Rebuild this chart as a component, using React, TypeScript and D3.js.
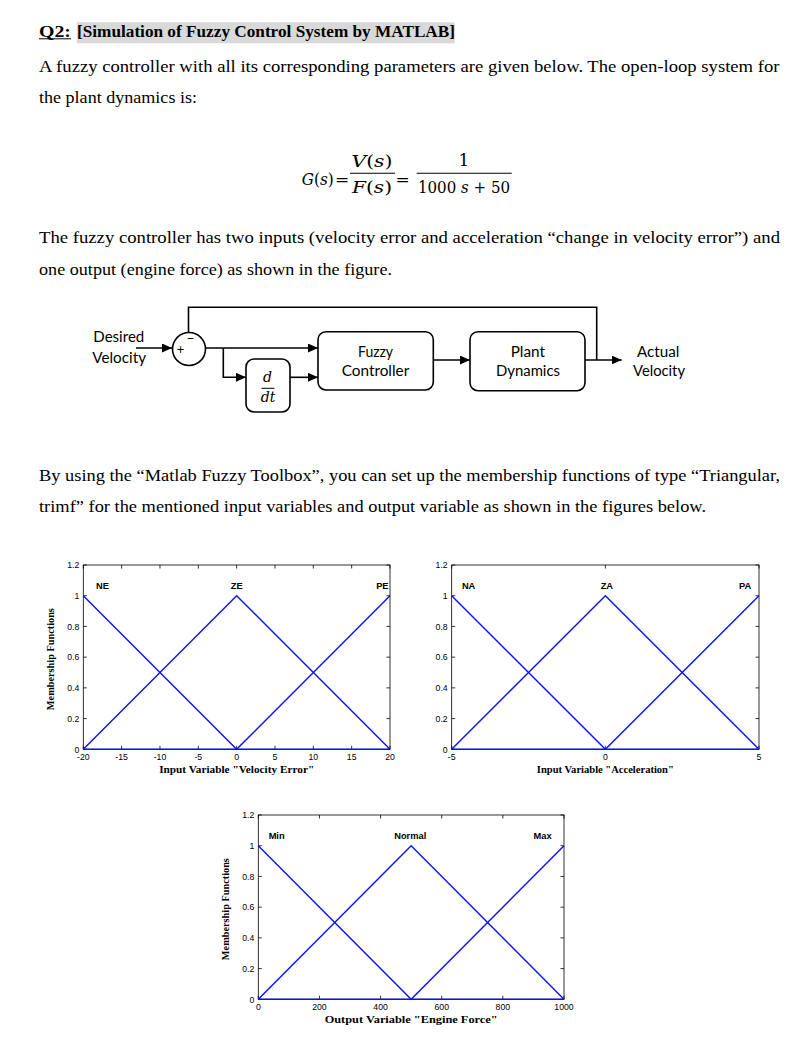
import { FC } from "react";
import * as d3 from "d3";

const W = 803;
const H = 1042;

// membership value ticks shared by all three plots
const mfTicks = [0, 0.2, 0.4, 0.6, 0.8, 1, 1.2];

// velocity error input
const velTicks = [-20, -15, -10, -5, 0, 5, 10, 15, 20];
const velNames = ["NE", "ZE", "PE"];
const velLabelX = [-17.5, 0, 19];
const velMF: [number, number][][] = [
  [[-20, 1], [0, 0], [20, 0]],
  [[-20, 0], [0, 1], [20, 0]],
  [[-20, 0], [0, 0], [20, 1]],
];

// acceleration input
const accTicks = [-5, 0, 5];
const accNames = ["NA", "ZA", "PA"];
const accLabelX = [-4.45, 0.05, 4.55];
const accMF: [number, number][][] = [
  [[-5, 1], [0, 0], [5, 0]],
  [[-5, 0], [0, 1], [5, 0]],
  [[-5, 0], [0, 0], [5, 1]],
];

// engine force output
const forceTicks = [0, 200, 400, 600, 800, 1000];
const forceNames = ["Min", "Normal", "Max"];
const forceLabelX = [60, 497, 930];
const forceMF: [number, number][][] = [
  [[0, 1], [500, 0], [1000, 0]],
  [[0, 0], [500, 1], [1000, 0]],
  [[0, 0], [500, 0], [1000, 1]],
];

const BLUE = "#0b12ee";
const SANS = "'Liberation Sans', Arial, sans-serif";
const SERIF = "'Liberation Serif', 'Times New Roman', serif";
const MATH = "'DejaVu Serif', serif";
const DIAG = "Lato, 'Open Sans', sans-serif";

interface IMFChart {
  x0: number;
  x1: number;
  y0: number;
  y1: number;
  domain: [number, number];
  xTicks: number[];
  names: string[];
  labelX: number[];
  lines: [number, number][][];
  xLabel: string;
  xLabelLen: number;
  yLabel?: string;
}

const MFChart: FC<IMFChart> = ({ x0, x1, y0, y1, domain, xTicks, names, labelX, lines, xLabel, xLabelLen, yLabel }) => {
  const x = d3.scaleLinear().domain(domain).range([x0, x1]);
  const y = d3.scaleLinear().domain([0, 1.2]).range([y1, y0]);
  const line = d3.line<[number, number]>().x(d => x(d[0])).y(d => y(d[1]));
  const tk = 3.5;
  return (
    <g>
      <rect x={x0} y={y0} width={x1 - x0} height={y1 - y0} fill="#fff" stroke="#000" strokeWidth={0.8} />
      {xTicks.map(t => (
        <g key={"x" + t}>
          <line x1={x(t)} x2={x(t)} y1={y1} y2={y1 - tk} stroke="#000" strokeWidth={0.8} />
          <line x1={x(t)} x2={x(t)} y1={y0} y2={y0 + tk} stroke="#000" strokeWidth={0.8} />
          <text x={x(t)} y={y1 + 10.5} textAnchor="middle" fontFamily={SANS} fontSize={8.7}>{t}</text>
        </g>
      ))}
      {mfTicks.map(t => (
        <g key={"y" + t}>
          <line x1={x0} x2={x0 + tk} y1={y(t)} y2={y(t)} stroke="#000" strokeWidth={0.8} />
          <line x1={x1} x2={x1 - tk} y1={y(t)} y2={y(t)} stroke="#000" strokeWidth={0.8} />
          <text x={x0 - 4} y={y(t) + 3.2} textAnchor="end" fontFamily={SANS} fontSize={8.7}>{t}</text>
        </g>
      ))}
      {lines.map((pts, i) => (
        <path key={"l" + i} d={line(pts) || ""} fill="none" stroke={BLUE} strokeWidth={1.4} />
      ))}
      {names.map((n, i) => (
        <text key={n} x={x(labelX[i])} y={y(1.045)} textAnchor="middle" fontFamily={SANS} fontWeight="bold" fontSize={9.3}>{n}</text>
      ))}
      <text x={(x0 + x1) / 2} y={y1 + 23.5} textAnchor="middle" fontFamily={SERIF} fontWeight="bold" fontSize={10}
        textLength={xLabelLen} lengthAdjust="spacingAndGlyphs">{xLabel}</text>
      {yLabel && (
        <text transform={`translate(${x0 - 29},${(y0 + y1) / 2 + 2}) rotate(-90)`} textAnchor="middle" fontFamily={SERIF}
          fontWeight="bold" fontSize={10} textLength={102} lengthAdjust="spacingAndGlyphs">{yLabel}</text>
      )}
    </g>
  );
};

const BodyLine: FC<{ y: number; len: number; text: string }> = ({ y, len, text }) => (
  <text x={39} y={y} fontFamily={SERIF} fontSize={17} textLength={len} lengthAdjust="spacingAndGlyphs">{text}</text>
);

const Block: FC<{ x: number; y: number; w: number; h: number }> = ({ x, y, w, h }) => (
  <rect x={x} y={y} width={w} height={h} rx={8} fill="#fff" stroke="#000" strokeWidth={1.6} />
);

const Label: FC<{ x: number; y: number; len: number; text: string }> = ({ x, y, len, text }) => (
  <text x={x} y={y} fontFamily={DIAG} fontSize={14.5} textLength={len} lengthAdjust="spacingAndGlyphs">{text}</text>
);

const Diagram: FC = () => {
  const sw = 1.6;
  return (
    <g>
      <defs>
        <marker id="ah" markerWidth={10} markerHeight={9} refX={10} refY={4.5} orient="auto" markerUnits="userSpaceOnUse">
          <path d="M0,0 L10,4.5 L0,9 z" fill="#000" />
        </marker>
      </defs>
      <Label x={93.3} y={341.7} len={51} text="Desired" />
      <Label x={92.3} y={362.7} len={53.7} text="Velocity" />
      {/* input to summing junction */}
      <line x1={136} y1={348} x2={172} y2={348} stroke="#000" strokeWidth={sw} markerEnd="url(#ah)" />
      <circle cx={189} cy={349} r={16.5} fill="#fff" stroke="#000" strokeWidth={sw} />
      <text x={180.5} y={354} textAnchor="middle" fontFamily={DIAG} fontSize={13}>+</text>
      <text x={190.5} y={343} textAnchor="middle" fontFamily={DIAG} fontSize={13}>−</text>
      {/* feedback path */}
      <polyline points="188.5,332.5 188.5,307.3 596.7,307.3 596.7,360" fill="none" stroke="#000" strokeWidth={sw} />
      {/* error to fuzzy controller */}
      <line x1={205.5} y1={348} x2={318} y2={348} stroke="#000" strokeWidth={sw} markerEnd="url(#ah)" />
      <polyline points="223.3,348 223.3,377.3 246,377.3" fill="none" stroke="#000" strokeWidth={sw} markerEnd="url(#ah)" />
      <Block x={246} y={359} w={44} h={53} />
      <text x={267.5} y={381.7} textAnchor="middle" fontFamily={MATH} fontStyle="italic" fontSize={14}>d</text>
      <line x1={261.5} x2={274.5} y1={388.3} y2={388.3} stroke="#000" strokeWidth={1} />
      <text x={268} y={402} textAnchor="middle" fontFamily={MATH} fontStyle="italic" fontSize={14}>dt</text>
      <line x1={290} y1={377.3} x2={318} y2={377.3} stroke="#000" strokeWidth={sw} markerEnd="url(#ah)" />
      <Block x={318} y={331.7} w={115.3} h={58.3} />
      <Label x={358} y={356.7} len={35} text="Fuzzy" />
      <Label x={341.7} y={376} len={67.6} text="Controller" />
      <line x1={433.3} y1={360} x2={470} y2={360} stroke="#000" strokeWidth={sw} markerEnd="url(#ah)" />
      <Block x={470} y={331.7} w={115} h={59} />
      <Label x={510.7} y={356.7} len={34.3} text="Plant" />
      <Label x={496} y={376} len={64} text="Dynamics" />
      <line x1={585} y1={360} x2={621.7} y2={360} stroke="#000" strokeWidth={sw} markerEnd="url(#ah)" />
      <Label x={637} y={356.7} len={42.3} text="Actual" />
      <Label x={633} y={376} len={52} text="Velocity" />
    </g>
  );
};

const Equation: FC = () => {
  const it = { fontStyle: "italic" as const };
  return (
    <g fontFamily={MATH} fontSize={17}>
      <text x={301.7} y={185} textLength={32} lengthAdjust="spacingAndGlyphs">
        <tspan {...it}>G</tspan>(<tspan {...it}>s</tspan>)
      </text>
      <text x={342} y={185} textAnchor="middle">=</text>
      <text x={351.5} y={166.7} textLength={41} lengthAdjust="spacingAndGlyphs">
        <tspan {...it}>V</tspan>(<tspan {...it}>s</tspan>)
      </text>
      <line x1={350} x2={395} y1={173.3} y2={173.3} stroke="#000" strokeWidth={1.1} />
      <text x={352} y={193} textLength={40} lengthAdjust="spacingAndGlyphs">
        <tspan {...it}>F</tspan>(<tspan {...it}>s</tspan>)
      </text>
      <text x={402.5} y={185} textAnchor="middle">=</text>
      <text x={464} y={166} textAnchor="middle">1</text>
      <line x1={416.7} x2={511.7} y1={173.3} y2={173.3} stroke="#000" strokeWidth={1.1} />
      <text x={418} y={193} textLength={92} lengthAdjust="spacingAndGlyphs">
        1000 <tspan {...it}>s</tspan> + 50
      </text>
    </g>
  );
};

const App: FC = () => {
  return (
    <svg width={W} height={H} style={{ position: "absolute", left: 0, top: 0, background: "#fff" }}>
      <rect x={0} y={0} width={W} height={H} fill="#fff" />
      {/* title */}
      <rect x={76.7} y={22.3} width={378} height={21} fill="#d9d9d9" />
      <text x={39} y={36.5} fontFamily={SERIF} fontWeight="bold" fontSize={16.5} textLength={32} lengthAdjust="spacingAndGlyphs">Q2:</text>
      <line x1={39} x2={71} y1={38.8} y2={38.8} stroke="#000" strokeWidth={1} />
      <text x={77} y={36.5} fontFamily={SERIF} fontWeight="bold" fontSize={16.5} textLength={378} lengthAdjust="spacingAndGlyphs">
        [Simulation of Fuzzy Control System by MATLAB]
      </text>

      <BodyLine y={71.7} len={740.5} text="A fuzzy controller with all its corresponding parameters are given below. The open-loop system for" />
      <BodyLine y={102.5} len={158} text="the plant dynamics is:" />

      <Equation />

      <BodyLine y={243.3} len={741} text="The fuzzy controller has two inputs (velocity error and acceleration “change in velocity error”) and" />
      <BodyLine y={274.7} len={353} text="one output (engine force) as shown in the figure." />

      <Diagram />

      <BodyLine y={480.7} len={741} text="By using the “Matlab Fuzzy Toolbox”, you can set up the membership functions of type “Triangular," />
      <BodyLine y={511.7} len={667} text="trimf” for the mentioned input variables and output variable as shown in the figures below." />

      <MFChart x0={83.3} x1={390} y0={565} y1={749.3} domain={[-20, 20]} xTicks={velTicks} names={velNames}
        labelX={velLabelX} lines={velMF} xLabel={'Input Variable "Velocity Error"'} xLabelLen={155} yLabel="Membership Functions" />
      <MFChart x0={451.7} x1={759} y0={565} y1={749.3} domain={[-5, 5]} xTicks={accTicks} names={accNames}
        labelX={accLabelX} lines={accMF} xLabel={'Input Variable "Acceleration"'} xLabelLen={137} />
      <MFChart x0={258.3} x1={564} y0={815} y1={999.3} domain={[0, 1000]} xTicks={forceTicks} names={forceNames}
        labelX={forceLabelX} lines={forceMF} xLabel={'Output Variable "Engine Force"'} xLabelLen={173} yLabel="Membership Functions" />
    </svg>
  );
};

export default App;
